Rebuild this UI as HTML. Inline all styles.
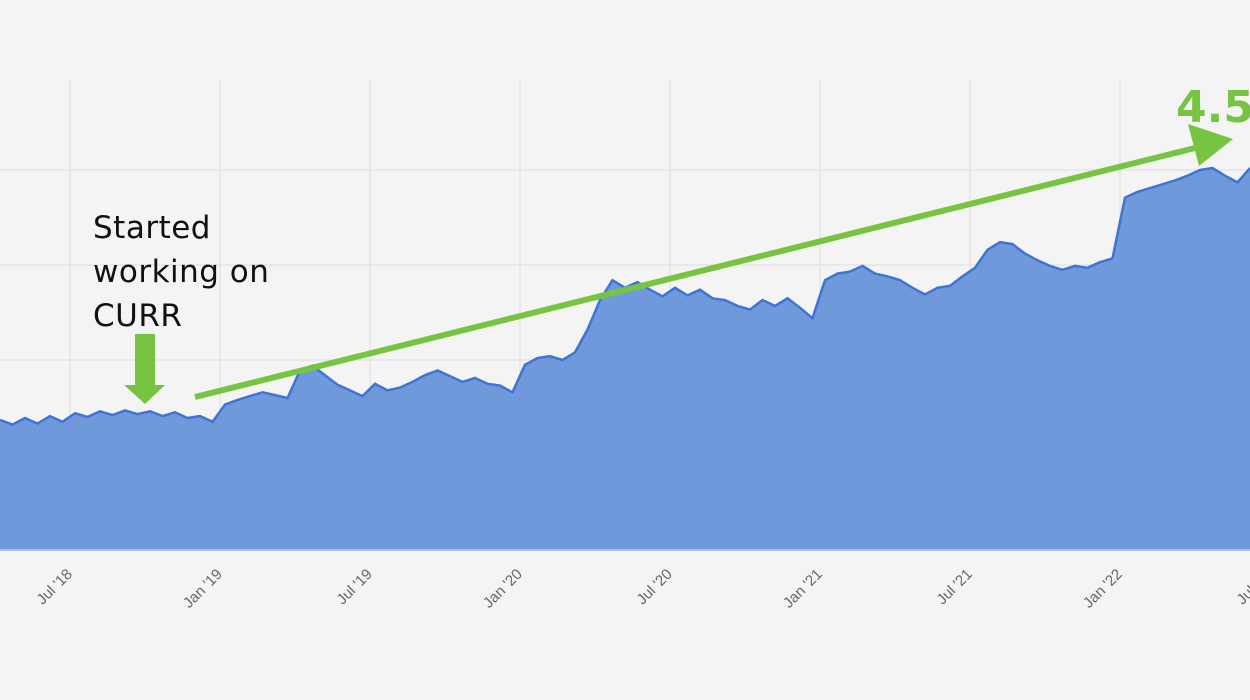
<!DOCTYPE html>
<html><head><meta charset="utf-8"><style>
html,body{margin:0;padding:0;background:#f4f4f4;overflow:hidden}
svg{display:block}
</style></head><body>
<svg id="chart" width="1250" height="700" viewBox="0 0 1250 700" xmlns="http://www.w3.org/2000/svg">
<rect width="1250" height="700" fill="#f4f4f4"/>
<g id="grid"></g>
<g id="series"></g>
<g id="xaxis"></g>
<g>
<text x="93" y="238" font-family="'DejaVu Sans','Liberation Sans',sans-serif" font-size="31" letter-spacing="0.5" fill="#111">Started</text>
<text x="93" y="282" font-family="'DejaVu Sans','Liberation Sans',sans-serif" font-size="31" letter-spacing="0.5" fill="#111">working on</text>
<text x="93" y="326" font-family="'DejaVu Sans','Liberation Sans',sans-serif" font-size="31" letter-spacing="0.5" fill="#111">CURR</text>
<polygon points="135,334 155,334 155,385 165,385 145,404 124,385 135,385" fill="#76c442"/>
<line x1="195" y1="397" x2="1195" y2="148" stroke="#76c442" stroke-width="6"/>
<polygon points="1233,139 1188,124 1199,166" fill="#76c442"/>
<text x="1176" y="122" font-family="'DejaVu Sans','Liberation Sans',sans-serif" font-size="44" font-weight="bold" fill="#76c442">4.5x</text>
</g>
</svg>
<script>
const values=[1.37,1.32,1.39,1.33,1.41,1.35,1.44,1.40,1.46,1.42,1.47,1.43,1.46,1.41,1.45,1.39,1.41,1.35,1.53,1.58,1.62,1.66,1.63,1.60,1.89,1.94,1.84,1.74,1.68,1.62,1.75,1.68,1.71,1.77,1.84,1.89,1.83,1.77,1.81,1.75,1.73,1.66,1.95,2.02,2.04,2.00,2.08,2.32,2.63,2.84,2.76,2.82,2.74,2.67,2.76,2.68,2.74,2.65,2.63,2.57,2.53,2.63,2.57,2.65,2.55,2.44,2.84,2.91,2.93,2.99,2.91,2.88,2.84,2.76,2.69,2.76,2.78,2.88,2.97,3.16,3.24,3.22,3.12,3.05,2.99,2.95,2.99,2.97,3.03,3.07,3.71,3.77,3.81,3.85,3.89,3.94,4.00,4.02,3.94,3.87,4.02];
const tickLabels=["Jul '18","Jan '19","Jul '19","Jan '20","Jul '20","Jan '21","Jul '21","Jan '22","Jul '22"];
const yTicks=[1,2,3,4];
const startMonth=-2.8;
const stepMonths=0.5;
const ns="http://www.w3.org/2000/svg";
function xOfMonth(m){return (m-startMonth)*25;}
function xOfIndex(i){return xOfMonth(startMonth+i*stepMonths);}
function y(v){return 550-v*95;}
const grid=document.getElementById('grid');
yTicks.forEach(t=>{const l=document.createElementNS(ns,'line');


l.setAttribute('x1',0);l.setAttribute('x2',1250);l.setAttribute('y1',y(t));l.setAttribute('y2',y(t));
l.setAttribute('stroke','#e4e4e4');l.setAttribute('stroke-width','1.5');grid.appendChild(l);});
const xa=document.getElementById('xaxis');
tickLabels.forEach((lab,k)=>{const x=xOfMonth(k*6);
const l=document.createElementNS(ns,'line');


l.setAttribute('x1',x);l.setAttribute('x2',x);l.setAttribute('y1',80);l.setAttribute('y2',550);
l.setAttribute('stroke','#e4e4e4');l.setAttribute('stroke-width','1.5');grid.appendChild(l);
const t=document.createElementNS(ns,'text');


const tx=x+3;
t.setAttribute('x',tx);t.setAttribute('y',575);t.setAttribute('text-anchor','end');
t.setAttribute('font-family','Liberation Sans, sans-serif');t.setAttribute('font-size','15');t.setAttribute('fill','#666');
t.setAttribute('transform','rotate(-45 '+tx+' 575)');t.textContent=lab;xa.appendChild(t);});
const s=document.getElementById('series');
let d='';values.forEach((v,i)=>{d+=(i?'L':'M')+xOfIndex(i).toFixed(1)+','+y(v).toFixed(1);});
const area=document.createElementNS(ns,'path');


area.setAttribute('d',d+'L'+xOfIndex(values.length-1)+',550L'+xOfIndex(0)+',550Z');
area.setAttribute('fill','#7099dc');s.appendChild(area);
const line=document.createElementNS(ns,'path');


line.setAttribute('d',d);line.setAttribute('fill','none');line.setAttribute('stroke','#3d74d6');line.setAttribute('stroke-width','2.5');
s.appendChild(line);
const base=document.createElementNS(ns,'line');


base.setAttribute('x1',0);base.setAttribute('x2',1250);base.setAttribute('y1',550);base.setAttribute('y2',550);
base.setAttribute('stroke','#a9c0ea');base.setAttribute('stroke-width','2');s.appendChild(base);
</script>
</body></html>
